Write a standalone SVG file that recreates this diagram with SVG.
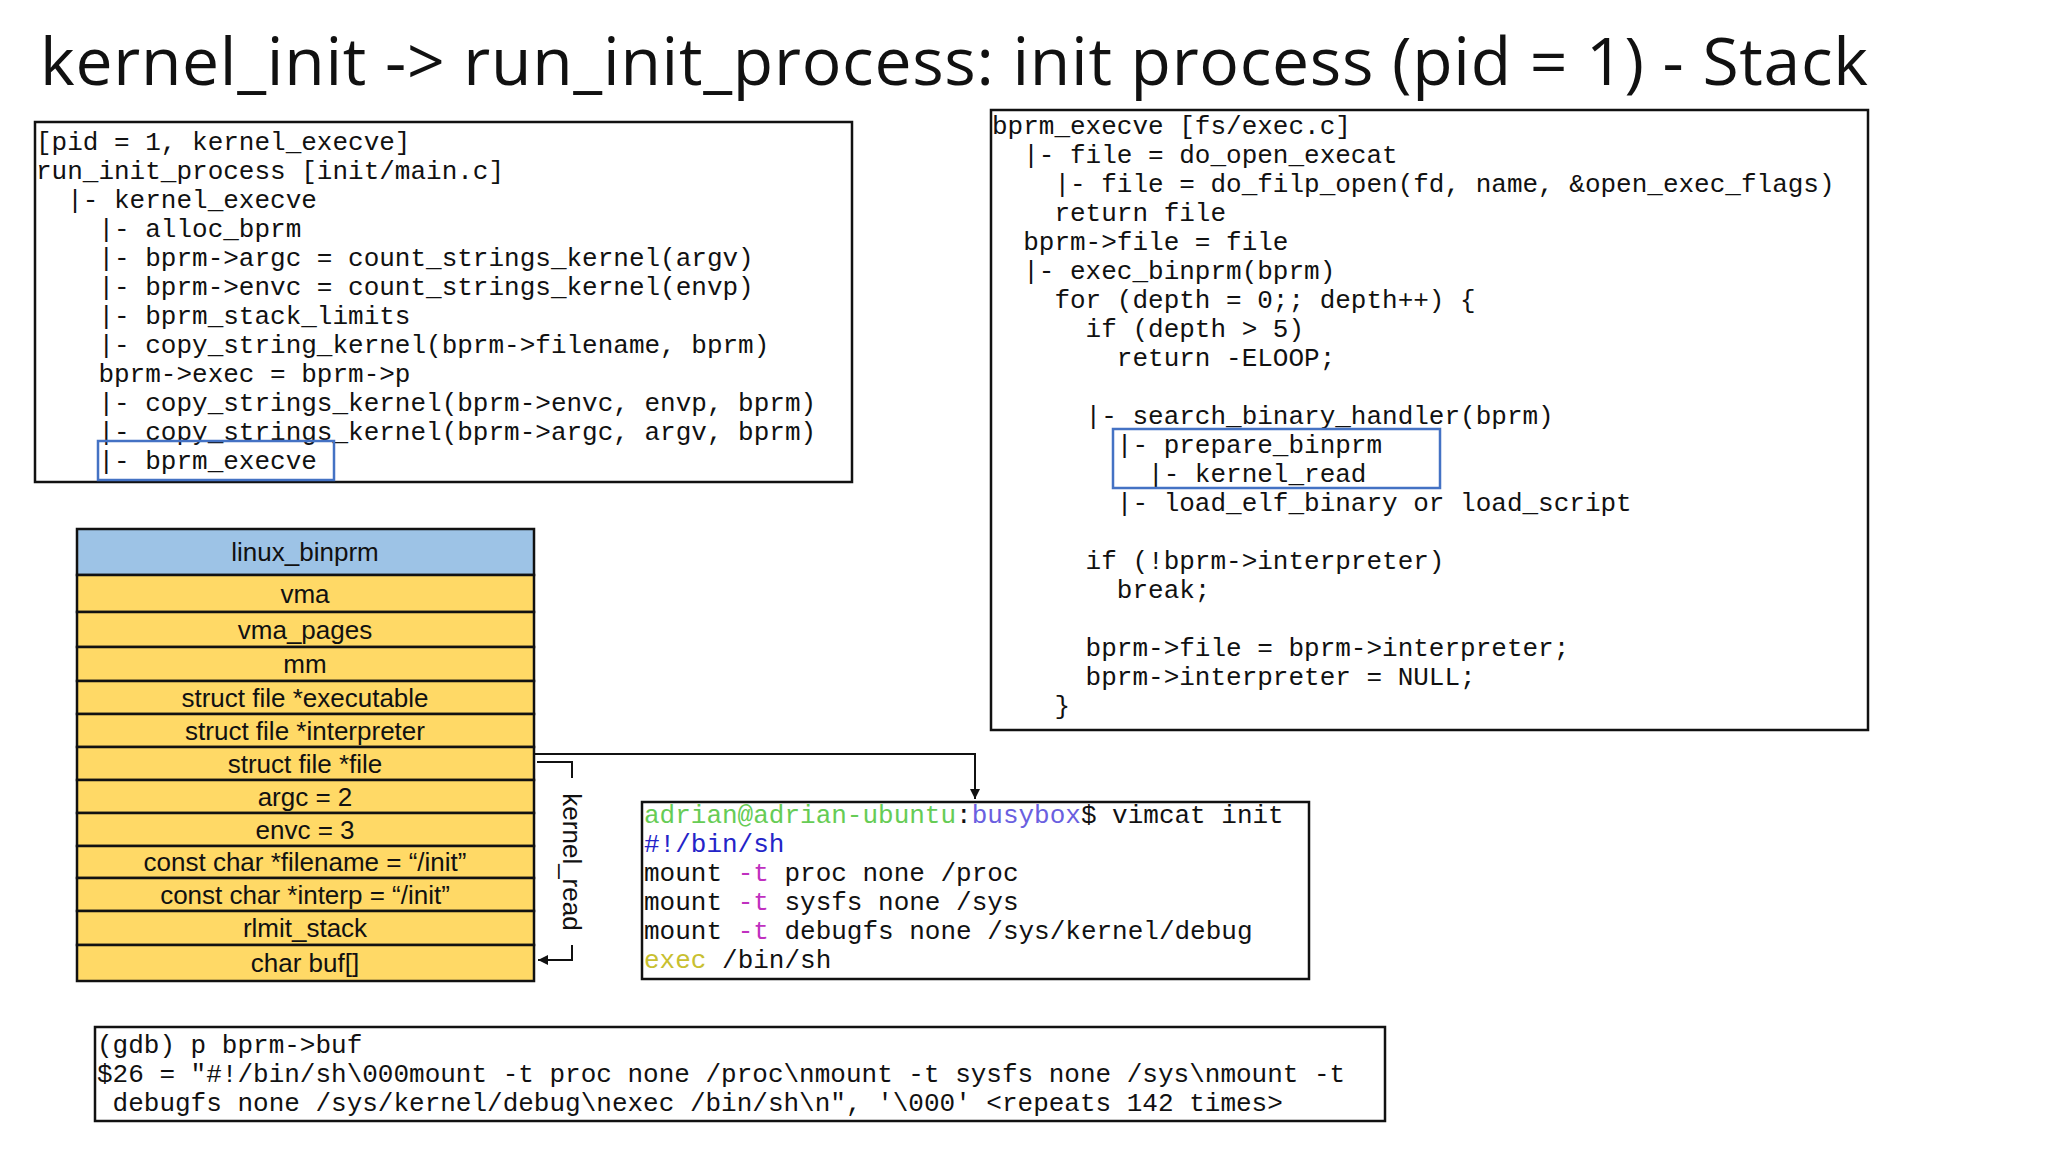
<svg xmlns="http://www.w3.org/2000/svg" width="2048" height="1152" viewBox="0 0 2048 1152">
<style>
.m{font-family:"Liberation Mono","DejaVu Sans Mono",monospace;font-size:26px;fill:#111;white-space:pre}
.box{fill:#fff;stroke:#111;stroke-width:2.5}
.hl{fill:none;stroke:#4472C4;stroke-width:2.5}
.row{fill:#FFD966;stroke:#111;stroke-width:2.5}
.hdr{fill:#9DC3E6;stroke:#111;stroke-width:2.5}
.t{font-family:"Liberation Sans",Arial,sans-serif;font-size:26px;fill:#111;text-anchor:middle}
.c{fill:none;stroke:#111;stroke-width:2}
</style>
<defs><marker id="a" markerWidth="12" markerHeight="12" refX="10" refY="5" orient="auto" markerUnits="userSpaceOnUse"><path d="M0,0L10,5L0,10z" fill="#111"/></marker></defs>
<rect width="2048" height="1152" fill="#fff"/>
<text x="40" y="85" font-family="Open Sans,Liberation Sans,sans-serif" font-size="66" fill="#111" textLength="1828">kernel_init -&gt; run_init_process: init process (pid = 1) - Stack</text>
<g id="left">
<rect class="box" x="35" y="122" width="817" height="360"/>
<text class="m" xml:space="preserve"><tspan x="36" y="150">[pid = 1, kernel_execve]</tspan><tspan x="36" y="179">run_init_process [init/main.c]</tspan><tspan x="36" y="208">  |- kernel_execve</tspan><tspan x="36" y="237">    |- alloc_bprm</tspan><tspan x="36" y="266">    |- bprm-&gt;argc = count_strings_kernel(argv)</tspan><tspan x="36" y="295">    |- bprm-&gt;envc = count_strings_kernel(envp)</tspan><tspan x="36" y="324">    |- bprm_stack_limits</tspan><tspan x="36" y="353">    |- copy_string_kernel(bprm-&gt;filename, bprm)</tspan><tspan x="36" y="382">    bprm-&gt;exec = bprm-&gt;p</tspan><tspan x="36" y="411">    |- copy_strings_kernel(bprm-&gt;envc, envp, bprm)</tspan><tspan x="36" y="440">    |- copy_strings_kernel(bprm-&gt;argc, argv, bprm)</tspan><tspan x="36" y="469">    |- bprm_execve</tspan></text>
<rect class="hl" x="98" y="441" width="236" height="39"/>
</g>
<g id="right">
<rect class="box" x="991" y="110" width="877" height="620"/>
<text class="m" xml:space="preserve"><tspan x="992" y="134">bprm_execve [fs/exec.c]</tspan><tspan x="992" y="163">  |- file = do_open_execat</tspan><tspan x="992" y="192">    |- file = do_filp_open(fd, name, &amp;open_exec_flags)</tspan><tspan x="992" y="221">    return file</tspan><tspan x="992" y="250">  bprm-&gt;file = file</tspan><tspan x="992" y="279">  |- exec_binprm(bprm)</tspan><tspan x="992" y="308">    for (depth = 0;; depth++) {</tspan><tspan x="992" y="337">      if (depth &gt; 5)</tspan><tspan x="992" y="366">        return -ELOOP;</tspan><tspan x="992" y="424">      |- search_binary_handler(bprm)</tspan><tspan x="992" y="453">        |- prepare_binprm</tspan><tspan x="992" y="482">          |- kernel_read</tspan><tspan x="992" y="511">        |- load_elf_binary or load_script</tspan><tspan x="992" y="569">      if (!bprm-&gt;interpreter)</tspan><tspan x="992" y="598">        break;</tspan><tspan x="992" y="656">      bprm-&gt;file = bprm-&gt;interpreter;</tspan><tspan x="992" y="685">      bprm-&gt;interpreter = NULL;</tspan><tspan x="992" y="714">    }</tspan></text>
<rect class="hl" x="1113" y="429" width="327" height="59"/>
</g>
<g id="linux_binprm">
<rect class="hdr" x="77" y="529" width="457" height="46"/><text class="t" x="305" y="561">linux_binprm</text>
<rect class="row" x="77" y="575" width="457" height="37"/><text class="t" x="305" y="603">vma</text>
<rect class="row" x="77" y="612" width="457" height="35"/><text class="t" x="305" y="639">vma_pages</text>
<rect class="row" x="77" y="647" width="457" height="34"/><text class="t" x="305" y="673">mm</text>
<rect class="row" x="77" y="681" width="457" height="33"/><text class="t" x="305" y="707">struct file *executable</text>
<rect class="row" x="77" y="714" width="457" height="33"/><text class="t" x="305" y="740">struct file *interpreter</text>
<rect class="row" x="77" y="747" width="457" height="33"/><text class="t" x="305" y="773">struct file *file</text>
<rect class="row" x="77" y="780" width="457" height="33"/><text class="t" x="305" y="806">argc = 2</text>
<rect class="row" x="77" y="813" width="457" height="33"/><text class="t" x="305" y="839">envc = 3</text>
<rect class="row" x="77" y="846" width="457" height="32"/><text class="t" x="305" y="871">const char *filename = “/init”</text>
<rect class="row" x="77" y="878" width="457" height="33"/><text class="t" x="305" y="904">const char *interp = “/init”</text>
<rect class="row" x="77" y="911" width="457" height="34"/><text class="t" x="305" y="937">rlmit_stack</text>
<rect class="row" x="77" y="945" width="457" height="36"/><text class="t" x="305" y="972">char buf[]</text>
</g>
<g id="terminal">
<rect class="box" x="642" y="802" width="667" height="177"/>
<text class="m" xml:space="preserve"><tspan x="644" y="823"><tspan fill="#66CC55">adrian@adrian-ubuntu</tspan>:<tspan fill="#6A5FE0">busybox</tspan>$ vimcat init</tspan><tspan x="644" y="852" fill="#2424C8">#!/bin/sh</tspan><tspan x="644" y="881">mount <tspan fill="#C030C0">-t</tspan> proc none /proc</tspan><tspan x="644" y="910">mount <tspan fill="#C030C0">-t</tspan> sysfs none /sys</tspan><tspan x="644" y="939">mount <tspan fill="#C030C0">-t</tspan> debugfs none /sys/kernel/debug</tspan><tspan x="644" y="968"><tspan fill="#C8C030">exec</tspan> /bin/sh</tspan></text>
</g>
<g id="gdb">
<rect class="box" x="95" y="1027" width="1290" height="94"/>
<text class="m" xml:space="preserve"><tspan x="97" y="1053">(gdb) p bprm-&gt;buf</tspan><tspan x="97" y="1082">$26 = "#!/bin/sh\000mount -t proc none /proc\nmount -t sysfs none /sys\nmount -t</tspan><tspan x="97" y="1111"> debugfs none /sys/kernel/debug\nexec /bin/sh\n", '\000' &lt;repeats 142 times&gt;</tspan></text>
</g>
<g id="connectors">
<path class="c" d="M534,754H975V799" marker-end="url(#a)"/>
<path class="c" d="M537,762H572V778"/>
<path class="c" d="M572,945V960H538" marker-end="url(#a)"/>
<text class="t" transform="translate(563,862) rotate(90)">kernel_read</text>
</g>
</svg>
